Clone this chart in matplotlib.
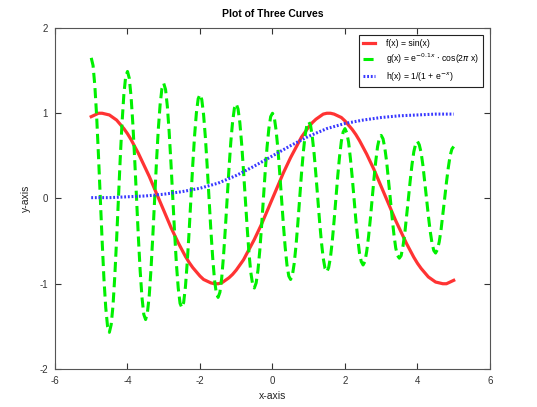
import numpy as np
import matplotlib
matplotlib.use("Agg")
import matplotlib.pyplot as plt

plt.rcParams['font.family'] = ['Liberation Sans', 'DejaVu Sans']
plt.rcParams['axes.unicode_minus'] = False

# f(x) = sin(x), read every 0.1
x_f = np.linspace(-5, 5, 101)
f_vals = [0.96, 0.98, 1.00, 1.00, 0.99, 0.98, 0.95, 0.92, 0.87, 0.82,
          0.76, 0.69, 0.61, 0.53, 0.44, 0.35, 0.26, 0.16, 0.06, -0.04,
          -0.14, -0.24, -0.34, -0.43, -0.52, -0.60, -0.68, -0.75, -0.81, -0.86,
          -0.91, -0.95, -0.97, -0.99, -1.00, -1.00, -0.99, -0.96, -0.93, -0.89,
          -0.84, -0.78, -0.72, -0.64, -0.56, -0.48, -0.39, -0.30, -0.20, -0.10,
          0.00, 0.10, 0.20, 0.30, 0.39, 0.48, 0.56, 0.64, 0.72, 0.78,
          0.84, 0.89, 0.93, 0.96, 0.99, 1.00, 1.00, 0.99, 0.97, 0.95,
          0.91, 0.86, 0.81, 0.75, 0.68, 0.60, 0.52, 0.43, 0.34, 0.24,
          0.14, 0.04, -0.06, -0.16, -0.26, -0.35, -0.44, -0.53, -0.61, -0.69,
          -0.76, -0.82, -0.87, -0.92, -0.95, -0.98, -0.99, -1.00, -1.00, -0.98,
          -0.96]

# g(x) = e^{-0.1x} cos(2 pi x), read every 0.05
x_g = np.linspace(-5, 5, 201)
g_vals = [1.65, 1.56, 1.32, 0.96, 0.50, 0.00, -0.49, -0.94, -1.28, -1.50,
          -1.57, -1.48, -1.26, -0.91, -0.48, 0.00, 0.47, 0.89, 1.22, 1.43,
          1.49, 1.41, 1.19, 0.86, 0.45, 0.00, -0.45, -0.85, -1.16, -1.36,
          -1.42, -1.34, -1.14, -0.82, -0.43, 0.00, 0.43, 0.81, 1.10, 1.29,
          1.35, 1.28, 1.08, 0.78, 0.41, 0.00, -0.40, -0.77, -1.05, -1.23,
          -1.28, -1.22, -1.03, -0.74, -0.39, 0.00, 0.39, 0.73, 1.00, 1.17,
          1.22, 1.16, 0.98, 0.71, 0.37, 0.00, -0.37, -0.69, -0.95, -1.11,
          -1.16, -1.10, -0.93, -0.67, -0.35, 0.00, 0.35, 0.66, 0.90, 1.06,
          1.11, 1.05, 0.89, 0.64, 0.33, 0.00, -0.33, -0.63, -0.86, -1.00,
          -1.05, -0.99, -0.84, -0.61, -0.32, 0.00, 0.32, 0.60, 0.82, 0.96,
          1.00, 0.95, 0.80, 0.58, 0.30, 0.00, -0.30, -0.57, -0.78, -0.91,
          -0.95, -0.90, -0.76, -0.55, -0.29, 0.00, 0.29, 0.54, 0.74, 0.86,
          0.90, 0.86, 0.72, 0.52, 0.27, 0.00, -0.27, -0.51, -0.70, -0.82,
          -0.86, -0.81, -0.69, -0.50, -0.26, 0.00, 0.26, 0.49, 0.67, 0.78,
          0.82, 0.77, 0.66, 0.47, 0.25, 0.00, -0.25, -0.46, -0.64, -0.74,
          -0.78, -0.74, -0.62, -0.45, -0.24, 0.00, 0.23, 0.44, 0.61, 0.71,
          0.74, 0.70, 0.59, 0.43, 0.22, 0.00, -0.22, -0.42, -0.58, -0.67,
          -0.70, -0.67, -0.56, -0.41, -0.21, 0.00, 0.21, 0.40, 0.55, 0.64,
          0.67, 0.63, 0.54, 0.39, 0.20, 0.00, -0.20, -0.38, -0.52, -0.61,
          -0.64, -0.60, -0.51, -0.37, -0.19, 0.00, 0.19, 0.36, 0.50, 0.58,
          0.61]

# h(x) = 1/(1+e^{-x}), read every 0.5
x_h = np.linspace(-5, 5, 21)
h_vals = [0.01, 0.01, 0.02, 0.03, 0.05, 0.08, 0.12, 0.18, 0.27, 0.38,
          0.50, 0.62, 0.73, 0.82, 0.88, 0.92, 0.95, 0.97, 0.98, 0.99, 0.99]

fig = plt.figure(figsize=(5.37, 4.07), dpi=100)
ax = fig.add_axes([0.1024, 0.0934, 0.810, 0.8378])

ax.plot(x_f, f_vals, color='#ff3333', lw=2.3, label='f(x) = sin(x)')
g_line, = ax.plot(x_g, g_vals, color='#00f000', lw=2.2,
                  label=r'g(x) = e$^{-0.1x}$ $\cdot$ cos(2$\pi$ x)')
g_line.set_dashes((3.3, 1.7))
h_line, = ax.plot(x_h, h_vals, color='#3838ff', lw=2.2,
                  label=r'h(x) = 1/(1 + e$^{-x}$)')
h_line.set_dashes((0.6, 0.6))

ax.set_xlim(-6, 6)
ax.set_ylim(-2, 2)
ax.set_xticks([-6, -4, -2, 0, 2, 4, 6])
ax.set_yticks([-2, -1, 0, 1, 2])
ax.tick_params(direction='in', top=True, right=True, length=4,
               labelsize=7, colors='#333333', pad=5)
for s in ax.spines.values():
    s.set_color('#555555')
    s.set_linewidth(0.8)

ax.set_xlabel('x-axis', fontsize=7.5, color='#222222', labelpad=4)
ax.set_ylabel('y-axis', fontsize=7.5, color='#222222', labelpad=6)
ax.set_title('Plot of Three Curves', fontsize=7.5, fontweight='bold', pad=8)

leg = ax.legend(loc='upper right', fontsize=6.2, fancybox=False,
                framealpha=1, edgecolor='#222222', handlelength=1.3,
                handletextpad=1.3, borderaxespad=0.8, labelspacing=0.42,
                borderpad=0.5)
leg.get_frame().set_linewidth(0.8)

fig.savefig('out.png', dpi=100)
